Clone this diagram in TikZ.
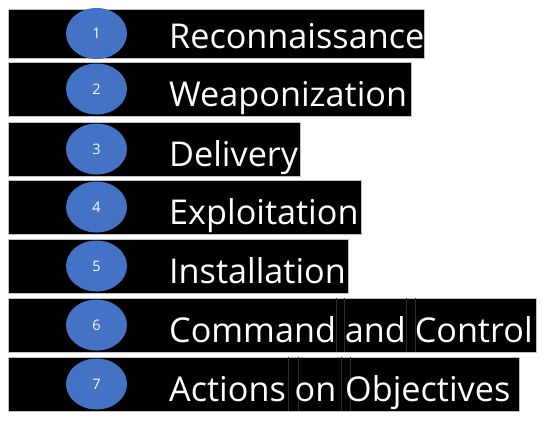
\documentclass[tikz,border=0pt]{standalone}
\usepackage{fontspec}
\setmainfont{Open Sans}
\usetikzlibrary{shapes.geometric}
\definecolor{stepblue}{HTML}{4472C4}
\definecolor{barline}{HTML}{BFBFBF}
\definecolor{sepline}{HTML}{2A2A2A}
\tikzset{
  barbox/.style={draw=barline, line width=0.8bp, fill=black},
  numdisc/.style={ellipse, fill=stepblue, draw=none, minimum width=61bp, minimum height=51bp, inner sep=0pt, text=white, font=\fontsize{14.5bp}{14.5bp}\selectfont},
  steplabel/.style={anchor=base west, inner sep=0pt, text=white, font=\fontsize{34.2bp}{34.2bp}\selectfont},
  sepmark/.style={draw=sepline, line width=0.6bp}
}
\begin{document}
\begin{tikzpicture}[x=1bp,y=-1bp]
\useasboundingbox (0,0) rectangle (550,421);
\fill[white] (0,0) rectangle (550,421);
% bars
\foreach \i/\t/\b/\r in {1/9/58/424, 2/62/116/411, 3/122/176/300, 4/180/234/361, 5/239/293/348, 6/298/352/536, 7/357/411/519}{
  \draw[barbox] (8.5,\t) rectangle (\r,\b);
  \coordinate (m\i) at (96.5,{(\t+\b)/2});
  \coordinate (l\i) at (169,{\b-10});
}
% separators
\draw[sepmark] (336,298) -- (336,352);
\draw[sepmark] (344,298) -- (344,352);
\draw[sepmark] (406,298) -- (406,352);
\draw[sepmark] (415,298) -- (415,352);
\draw[sepmark] (288,357) -- (288,411);
\draw[sepmark] (298,357) -- (298,411);
\draw[sepmark] (341,357) -- (341,411);
\draw[sepmark] (350,357) -- (350,411);
% discs
\node[numdisc] (c1) at (m1) {1};
\node[numdisc] (c2) at (m2) {2};
\node[numdisc] (c3) at (m3) {3};
\node[numdisc] (c4) at (m4) {4};
\node[numdisc] (c5) at (m5) {5};
\node[numdisc] (c6) at (m6) {6};
\node[numdisc] (c7) at (m7) {7};
% labels
\node[steplabel] (t1) at (l1) {Reconnaissance};
\node[steplabel] (t2) at (l2) {Weaponization};
\node[steplabel] (t3) at (l3) {Delivery};
\node[steplabel] (t4) at (l4) {Exploitation};
\node[steplabel] (t5) at (l5) {Installation};
\node[steplabel] (t6) at (l6) {Command and Control};
\node[steplabel] (t7) at (l7) {Actions on Objectives};
\end{tikzpicture}
\end{document}
